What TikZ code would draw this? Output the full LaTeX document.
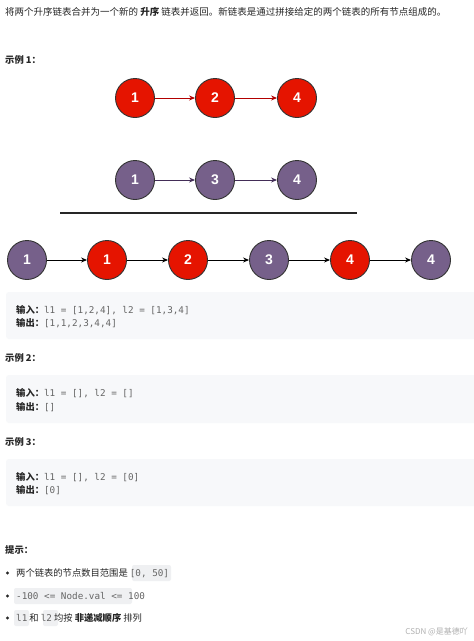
\documentclass[tikz,border=0pt]{standalone}
\usepackage{fontspec}
\setmainfont{Noto Sans CJK SC}
\setmonofont{DejaVu Sans Mono}
\newfontfamily\digitfont{Liberation Sans}
\usetikzlibrary{arrows.meta}
\definecolor{redfill}{HTML}{E51400}
\definecolor{redline}{HTML}{B20000}
\definecolor{purfill}{HTML}{76608A}
\definecolor{purline}{HTML}{432D57}
\definecolor{textc}{HTML}{262626}
\definecolor{codec}{HTML}{666666}
\definecolor{boxc}{HTML}{F7F8FA}
\definecolor{inlinec}{HTML}{EFF0F2}
\definecolor{markc}{HTML}{B0B0B0}
\tikzset{
  rednode/.style={circle, draw=black!80, fill=redfill, line width=0.9pt, minimum size=39pt, inner sep=0pt, text=white, font=\digitfont\bfseries\fontsize{14}{14}\selectfont},
  purnode/.style={rednode, fill=purfill},
  link/.style={line width=0.8pt, -{Stealth[length=6pt,width=5pt]}},
  txt/.style={anchor=west, inner sep=0pt, text=textc, font=\fontsize{9.3}{11}\selectfont},
  head/.style={txt, font=\bfseries\fontsize{9.3}{11}\selectfont},
  codebox/.style={fill=boxc, rounded corners=3pt},
  inl/.style={fill=inlinec, rounded corners=2pt},
  bullet/.style={circle, fill=textc, inner sep=0pt, minimum size=3.2pt},
}
\begin{document}
\begin{tikzpicture}[x=1pt,y=-1pt]
\useasboundingbox[fill=white] (0,0) rectangle (474,641);

% intro
\node[txt, font=\fontsize{9.5}{11}\selectfont] (intro) at (5,12) {将两个升序链表合并为一个新的 \textbf{升序} 链表并返回。新链表是通过拼接给定的两个链表的所有节点组成的。};
\node[head] (ex1) at (5,60) {示例 1：};

% list 1
\node[rednode] (a1) at (135,98) {1};
\node[rednode] (a2) at (215,98) {2};
\node[rednode] (a3) at (297,98) {4};
\draw[link, redline] (a1) -- (a2);
\draw[link, redline] (a2) -- (a3);

% list 2
\node[purnode] (b1) at (135,180) {1};
\node[purnode] (b2) at (215,180) {3};
\node[purnode] (b3) at (297,180) {4};
\draw[link, purline] (b1) -- (b2);
\draw[link, purline] (b2) -- (b3);

% separator
\coordinate (s1) at (60,213);
\coordinate (s2) at (357,213);
\draw[line width=1.2pt, textc] (s1) -- (s2);

% merged
\node[purnode] (c1) at (27,260) {1};
\node[rednode] (c2) at (107,260) {1};
\node[rednode] (c3) at (188,260) {2};
\node[purnode] (c4) at (269,260) {3};
\node[rednode] (c5) at (350,260) {4};
\node[purnode] (c6) at (431,260) {4};
\foreach \p/\q in {c1/c2,c2/c3,c3/c4,c4/c5,c5/c6}
  \draw[link, black] (\p) -- (\q);

% example 1 box
\fill[codebox] (6,292) rectangle (480,339);
\node[txt] (in1) at (16,310) {\textbf{输入：}{\color{codec}\ttfamily l1 = [1,2,4], l2 = [1,3,4]}};
\node[txt] (out1) at (16,323) {\textbf{输出：}{\color{codec}\ttfamily [1,1,2,3,4,4]}};

% example 2
\node[head] (ex2) at (5,358) {示例 2：};
\fill[codebox] (6,375) rectangle (480,423);
\node[txt] (in2) at (16,393) {\textbf{输入：}{\color{codec}\ttfamily l1 = [], l2 = []}};
\node[txt] (out2) at (16,407) {\textbf{输出：}{\color{codec}\ttfamily []}};

% example 3
\node[head] (ex3) at (5,442) {示例 3：};
\fill[codebox] (6,459) rectangle (480,506);
\node[txt] (in3) at (16,477) {\textbf{输入：}{\color{codec}\ttfamily l1 = [], l2 = [0]}};
\node[txt] (out3) at (16,490) {\textbf{输出：}{\color{codec}\ttfamily [0]}};

% hints
\node[head] (hint) at (5,550) {提示：};

\node[bullet] (d1) at (7.5,573) {};
\fill[inl] (132,565) rectangle (171,581);
\node[txt] (h1) at (16,573) {两个链表的节点数目范围是 {\color{codec}\ttfamily [0, 50]}};

\node[bullet] (d2) at (7.5,596) {};
\fill[inl] (14,588) rectangle (132,604);
\node[txt] (h2) at (16,596) {{\color{codec}\ttfamily -100 <= Node.val <= 100}};

\node[bullet] (d3) at (7.5,618) {};
\fill[inl] (14,610) rectangle (29,626);
\fill[inl] (43,610) rectangle (58,626);
\node[txt] (h3) at (16,618) {{\color{codec}\ttfamily l1} 和 {\color{codec}\ttfamily l2} 均按 \textbf{非递减顺序} 排列};

% watermark
\node[anchor=east, inner sep=0pt, text=markc, font=\fontsize{8}{9}\selectfont] (wm) at (468,632) {CSDN @是基德吖};
\end{tikzpicture}
\end{document}
